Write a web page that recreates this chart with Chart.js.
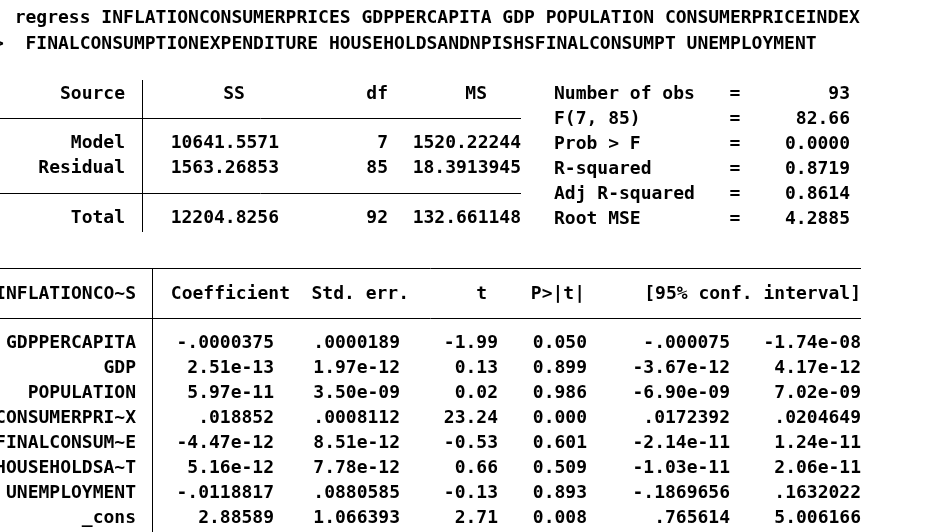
<!DOCTYPE html>
<html>
<head>
<meta charset="utf-8">
<script src="https://cdn.jsdelivr.net/npm/chart.js@4"></script>
<style>
  body { margin: 0; background: #fff; }
  #wrap { width: 946px; height: 532px; }
</style>
</head>
<body>
<div id="wrap"><canvas id="myChart" width="946" height="532"></canvas></div>
<script>
// command echo
const cmdLines = [
  ". regress INFLATIONCONSUMERPRICES GDPPERCAPITA GDP POPULATION CONSUMERPRICEINDEX",
  ">  FINALCONSUMPTIONEXPENDITURE HOUSEHOLDSANDNPISHSFINALCONSUMPT UNEMPLOYMENT"
]

// anova table
const anovaSource = ["Model", "Residual", "", "Total"]
const anovaSS = ["10641.5571", "1563.26853", "", "12204.8256"]
const anovaDf = ["7", "85", "", "92"]
const anovaMS = ["1520.22244", "18.3913945", "", "132.661148"]

// model stats
const statLabels = ["Number of obs", "F(7, 85)", "Prob > F", "R-squared", "Adj R-squared", "Root MSE"]
const statValues = ["93", "82.66", "0.0000", "0.8719", "0.8614", "4.2885"]

// coefficient table
const depVar = "INFLATIONCO~S"
const coefHeads = ["Coefficient", "Std. err.", "t", "P>|t|", "[95% conf. interval]"]
const varNames = ["GDPPERCAPITA", "GDP", "POPULATION", "CONSUMERPRI~X", "FINALCONSUM~E", "HOUSEHOLDSA~T", "UNEMPLOYMENT", "_cons"]
const coefs = ["-.0000375", "2.51e-13", "5.97e-11", ".018852", "-4.47e-12", "5.16e-12", "-.0118817", "2.88589"]
const stdErrs = [".0000189", "1.97e-12", "3.50e-09", ".0008112", "8.51e-12", "7.78e-12", ".0880585", "1.066393"]
const tStats = ["-1.99", "0.13", "0.02", "23.24", "-0.53", "0.66", "-0.13", "2.71"]
const pValues = ["0.050", "0.899", "0.986", "0.000", "0.601", "0.509", "0.893", "0.008"]
const ciLow = ["-.000075", "-3.67e-12", "-6.90e-09", ".0172392", "-2.14e-11", "-1.03e-11", "-.1869656", ".765614"]
const ciHigh = ["-1.74e-08", "4.17e-12", "7.02e-09", ".0204649", "1.24e-11", "2.06e-11", ".1632022", "5.006166"]

const FONT = 'bold 18px "DejaVu Sans Mono", "Liberation Mono", monospace'

const tablePlugin = {
  id: 'statatable',
  afterDraw(chart) {
    const c = chart.ctx
    const X = v => chart.scales.x.getPixelForValue(v)
    const Y = v => chart.scales.y.getPixelForValue(v)
    c.save()
    c.fillStyle = '#000'
    c.strokeStyle = '#000'
    c.lineWidth = 1
    c.font = FONT
    c.textBaseline = 'middle'

    function txt(s, x, y, align) {
      c.textAlign = align || 'left'
      c.fillText(s, X(x), Y(y))
    }
    function hline(x1, x2, y) {
      c.beginPath(); c.moveTo(X(x1), Y(y) + 0.5); c.lineTo(X(x2), Y(y) + 0.5); c.stroke()
    }
    function vline(x, y1, y2) {
      c.beginPath(); c.moveTo(X(x) + 0.5, Y(y1)); c.lineTo(X(x) + 0.5, Y(y2)); c.stroke()
    }

    // command
    txt(cmdLines[0], -7, 18)
    txt(cmdLines[1], -7, 44)

    // anova
    txt("Source", 125, 94, 'right')
    txt("SS", 234, 94, 'center')
    txt("df", 388, 94, 'right')
    txt("MS", 487, 94, 'right')
    hline(0, 521, 118)
    hline(0, 521, 193)
    vline(142, 80, 232)
    anovaSource.forEach((s, i) => {
      const y = 143 + i * 25
      if (!s) return
      txt(s, 125, y, 'right')
      txt(anovaSS[i], 279, y, 'right')
      txt(anovaDf[i], 388, y, 'right')
      txt(anovaMS[i], 521, y, 'right')
    })
    statLabels.forEach((s, i) => {
      const y = 94 + i * 25
      txt(s, 554, y)
      txt("=", 735, y, 'center')
      txt(statValues[i], 850, y, 'right')
    })

    // coefficient table
    hline(0, 861, 268)
    hline(0, 861, 318)
    vline(152, 268, 532)
    txt(depVar, 136, 294, 'right')
    txt(coefHeads[0], 290, 294, 'right')
    txt(coefHeads[1], 409, 294, 'right')
    txt(coefHeads[2], 487, 294, 'right')
    txt(coefHeads[3], 585, 294, 'right')
    txt(coefHeads[4], 861, 294, 'right')
    varNames.forEach((s, i) => {
      const y = 343 + i * 25
      txt(s, 136, y, 'right')
      txt(coefs[i], 274, y, 'right')
      txt(stdErrs[i], 400, y, 'right')
      txt(tStats[i], 498, y, 'right')
      txt(pValues[i], 587, y, 'right')
      txt(ciLow[i], 730, y, 'right')
      txt(ciHigh[i], 861, y, 'right')
    })
    c.restore()
  }
}

var ctx = document.getElementById('myChart').getContext('2d')
var myChart = new Chart(ctx, {
  type: 'scatter',
  data: { datasets: [{ data: [] }] },
  options: {
    responsive: false,
    animation: false,
    layout: { padding: 0 },
    plugins: { legend: { display: false }, tooltip: { enabled: false } },
    scales: {
      x: { type: 'linear', min: 0, max: 946, display: false },
      y: { type: 'linear', min: 0, max: 532, reverse: true, display: false }
    }
  },
  plugins: [tablePlugin]
})
</script>
</body>
</html>
